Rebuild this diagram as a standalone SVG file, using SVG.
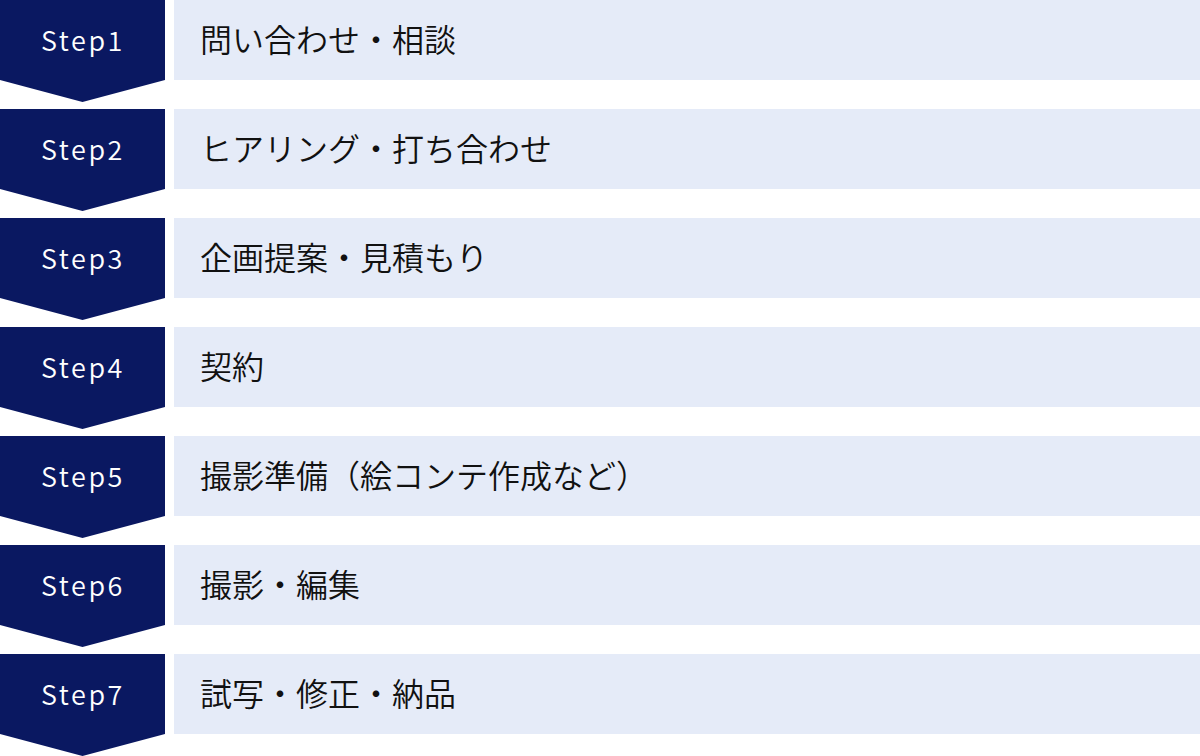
<svg xmlns="http://www.w3.org/2000/svg" width="1200" height="756" viewBox="0 0 1200 756">
<defs>
<style>
.arrow{fill:#0a1861}
.box{fill:#e5ebf8}
.step{font-family:"Noto Sans CJK JP","Noto Sans",sans-serif;font-size:27px;font-weight:350;fill:#ffffff;text-anchor:middle;letter-spacing:2.6px}
.label{font-family:"Noto Sans CJK JP","Noto Sans",sans-serif;font-size:32px;font-weight:350;fill:#111111}
</style>
<path id="chev" d="M0 0H165V80L82.5 102L0 80Z"/>
</defs>
<rect width="1200" height="756" fill="#ffffff"/>
<g id="connectors"></g>
<g id="step1"><use href="#chev" class="arrow"/><rect class="box" x="174" y="0" width="1026" height="80"/><text class="step" x="83" y="51">Step1</text><text class="label" x="200" y="52">問い合わせ・相談</text></g>
<g id="step2" transform="translate(0,109)"><use href="#chev" class="arrow"/><rect class="box" x="174" y="0" width="1026" height="80"/><text class="step" x="83" y="51">Step2</text><text class="label" x="200" y="52">ヒアリング・打ち合わせ</text></g>
<g id="step3" transform="translate(0,218)"><use href="#chev" class="arrow"/><rect class="box" x="174" y="0" width="1026" height="80"/><text class="step" x="83" y="51">Step3</text><text class="label" x="200" y="52">企画提案・見積もり</text></g>
<g id="step4" transform="translate(0,327)"><use href="#chev" class="arrow"/><rect class="box" x="174" y="0" width="1026" height="80"/><text class="step" x="83" y="51">Step4</text><text class="label" x="200" y="52">契約</text></g>
<g id="step5" transform="translate(0,436)"><use href="#chev" class="arrow"/><rect class="box" x="174" y="0" width="1026" height="80"/><text class="step" x="83" y="51">Step5</text><text class="label" x="200" y="52">撮影準備（絵コンテ作成など）</text></g>
<g id="step6" transform="translate(0,545)"><use href="#chev" class="arrow"/><rect class="box" x="174" y="0" width="1026" height="80"/><text class="step" x="83" y="51">Step6</text><text class="label" x="200" y="52">撮影・編集</text></g>
<g id="step7" transform="translate(0,654)"><use href="#chev" class="arrow"/><rect class="box" x="174" y="0" width="1026" height="80"/><text class="step" x="83" y="51">Step7</text><text class="label" x="200" y="52">試写・修正・納品</text></g>
</svg>
